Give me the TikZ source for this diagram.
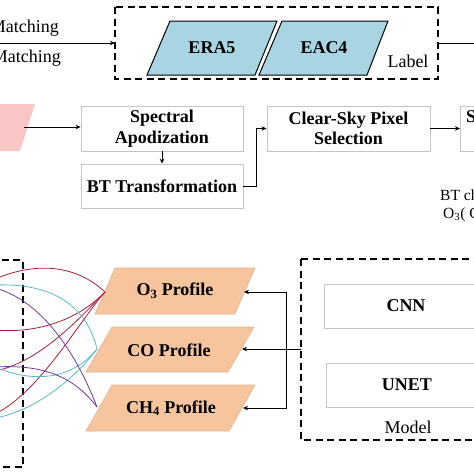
\documentclass[tikz,border=0pt]{standalone}
\usepackage{fontspec}
\setmainfont{Liberation Serif}
\usetikzlibrary{arrows.meta}
\definecolor{lblue}{HTML}{A9D5E2}
\definecolor{peach}{HTML}{F6C59E}
\definecolor{peachline}{HTML}{E2B48E}
\definecolor{pinkf}{HTML}{F9C6C6}
\definecolor{boxline}{HTML}{C4C4C4}
\definecolor{cred}{HTML}{A8203A}
\definecolor{ccyan}{HTML}{5DB9C6}
\definecolor{cpurple}{HTML}{6A3C9A}
\tikzset{
  procbox/.style={draw=boxline, line width=0.9pt, fill=white},
  dashbox/.style={draw=black, line width=1.1pt, dash pattern=on 7pt off 4.5pt},
  btxt/.style={font=\fontsize{18}{20.5}\selectfont\bfseries, align=center, inner sep=0pt},
  rtxt/.style={font=\fontsize{18}{20}\selectfont, inner sep=0pt},
  arr/.style={line width=0.8pt, -{Stealth[length=5pt,width=4.5pt]}},
  ln/.style={line width=0.8pt},
  blueshape/.style={draw=black, line width=1pt, fill=lblue},
  peachshape/.style={draw=peachline, line width=0.6pt, fill=peach},
  curve/.style={line width=0.8pt},
}
\begin{document}
\begin{tikzpicture}[x=1pt,y=-1pt]
\useasboundingbox (0,0) rectangle (474,474);
\clip (0,0) rectangle (474,474);
\fill[white] (0,0) rectangle (474,474);

% ---------- top row ----------
\node[rtxt, anchor=east] (m1) at (59,28) {Matching};
\node[rtxt, anchor=east] (m2) at (61,58) {Matching};
\coordinate (topin) at (-5,43);
\draw[dashbox] (115,7) rectangle (438,79);
\coordinate (lblL) at (115,43);
\coordinate (lblR) at (438,43);
\coordinate (topout) at (480,43);
\draw[arr] (topin) -- (lblL);
\draw[ln] (lblR) -- (topout);
\filldraw[blueshape] (147,75) -- (170,21) -- (277,21) -- (255,75) -- cycle;
\node[btxt] (era) at (212,48) {ERA5};
\filldraw[blueshape] (259,75) -- (282,21) -- (388,21) -- (367,75) -- cycle;
\node[btxt] (eac) at (324,48) {EAC4};
\node[rtxt] (lbl) at (408,61) {Label};

% ---------- middle row ----------
\fill[pinkf] (-5,104) -- (35,104) -- (20,151) -- (-5,151) -- cycle;
\coordinate (pinkout) at (24,127);
\node[procbox, minimum width=162pt, minimum height=45pt] (spec) at (162,128.5) {};
\node[btxt] at (spec.center) {Spectral\\Apodization};
\node[procbox, minimum width=162pt, minimum height=44pt] (btt) at (162,186) {};
\node[btxt] at (btt.center) {BT Transformation};
\node[procbox, minimum width=163pt, minimum height=45pt] (cls) at (348.5,128.5) {};
\node[btxt] at (cls.center) {Clear-Sky Pixel\\Selection};
\node[procbox, minimum width=60pt, minimum height=45pt, anchor=west] (nxt) at (460,128.5) {};
\node[btxt, anchor=west] at (466,117) {S};
\draw[arr] (pinkout) -- (spec.west |- pinkout);
\draw[arr] (spec.south) -- (btt.north);
\draw[arr] (btt.east) -- ++(13,0) |- (cls.west);
\draw[arr] (cls.east) -- (nxt.west);
\node[font=\fontsize{15.5}{17}\selectfont, inner sep=0pt, anchor=base west] (btch) at (440,200) {BT ch};
\node[font=\fontsize{15.5}{17}\selectfont, inner sep=0pt, anchor=base west] (o3c) at (443,218) {O\textsubscript{3}( C};

% ---------- bottom row ----------
\draw[dashbox] (-10,260) -- (23,260) -- (23,467) -- (-10,467);
% profiles
\filldraw[peachshape] (95,314) -- (115,268) -- (255,268) -- (235,314) -- cycle;
\node[btxt] (o3) at (175,291) {O\textsubscript{3} Profile};
\filldraw[peachshape] (86,372) -- (112,327) -- (254,327) -- (228,372) -- cycle;
\node[btxt] (co) at (169,350) {CO Profile};
\filldraw[peachshape] (86,431) -- (112,385) -- (255,385) -- (229,431) -- cycle;
\node[btxt] (ch4) at (171,408) {CH\textsubscript{4} Profile};
\coordinate (o3in) at (105,292);
\coordinate (coin) at (97,349);
\coordinate (chin) at (97,407);
\coordinate (o3r) at (244,292);
\coordinate (cor) at (242,349);
\coordinate (chr) at (243,408);
% curves
\coordinate (r1) at (-5,279);
\coordinate (r2) at (-5,330);
\coordinate (r3) at (-5,371);
\coordinate (r4) at (-5,414);
\coordinate (c1) at (-5,285);
\coordinate (c2) at (-5,367);
\coordinate (c3) at (-5,418);
\coordinate (p1) at (-5,288);
\coordinate (p2) at (-5,367);
\draw[curve, cred] (r1) .. controls (35,262) and (75,264) .. (o3in);
\draw[curve, cred] (r2) .. controls (40,334) and (80,318) .. (o3in);
\draw[curve, cred] (r3) .. controls (40,362) and (80,318) .. (o3in);
\draw[curve, cred] (r4) .. controls (40,392) and (80,320) .. (o3in);
\draw[curve, ccyan] (c1) .. controls (45,283) and (85,300) .. (coin);
\draw[curve, ccyan] (c2) .. controls (30,382) and (70,382) .. (coin);
\draw[curve, ccyan] (c3) .. controls (40,410) and (80,372) .. (coin);
\draw[curve, cpurple] (p1) .. controls (40,300) and (75,350) .. (chin);
\draw[curve, cpurple] (p2) .. controls (45,364) and (75,378) .. (chin);
% model box
\draw[dashbox] (301,259) -- (485,259);
\draw[dashbox] (301,259) -- (301,440) -- (485,440);
\coordinate (modL) at (301,349);
\node[procbox, minimum width=170pt, minimum height=44pt, anchor=north west] (cnn) at (324,284) {};
\node[btxt] at (406,306) {CNN};
\node[procbox, minimum width=170pt, minimum height=44pt, anchor=north west] (unet) at (326,363) {};
\node[btxt] at (407,385) {UNET};
\node[rtxt] (model) at (408,427) {Model};
\coordinate (bus) at (286,349);
\draw[arr] (modL) -- (cor);
\draw[arr] (bus) |- (o3r);
\draw[arr] (bus) |- (chr);
\end{tikzpicture}
\end{document}
